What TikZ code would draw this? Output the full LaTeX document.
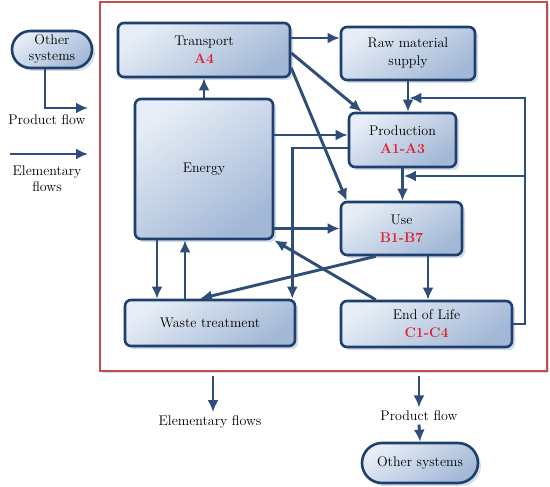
\documentclass[tikz,border=0pt]{standalone}
\usepackage{tikz}
\usetikzlibrary{arrows.meta,shapes.misc,shadows}

\definecolor{boxline}{HTML}{1F3F6F}
\definecolor{boxtop}{HTML}{E6EDF6}
\definecolor{boxbottom}{HTML}{A3B8D6}
\definecolor{flowline}{HTML}{2E4D78}
\definecolor{phasered}{HTML}{E0202C}
\definecolor{framered}{HTML}{C0504D}
\definecolor{shadowblue}{HTML}{C9D4E4}

\begin{document}
\begin{tikzpicture}[x=1pt,y=-1pt,
    font=\fontsize{14}{18}\selectfont,
    stage/.style={draw=boxline, line width=2.6pt, rounded corners=6pt,
      top color=boxtop, bottom color=boxbottom, shading angle=35,
      drop shadow={shadow xshift=3pt, shadow yshift=-3pt, fill=shadowblue, opacity=0.8},
      align=center, inner sep=0pt},
    terminal/.style={stage, rounded rectangle, rounded corners=0pt},
    system/.style={draw=framered, line width=2.4pt, fill=white,
      drop shadow={shadow xshift=2pt, shadow yshift=-2pt, fill=shadowblue, opacity=0.8}},
    flow/.style={draw=flowline, line width=2.9pt, -{Latex[length=12pt,width=11pt]}}
  ]
  \useasboundingbox (0,0) rectangle (550,487);

  \node[system, minimum width=447pt, minimum height=369pt] (lca) at (323.5,186.5) {};

  \node[stage, minimum width=172pt, minimum height=54pt] (transport) at (204,50)
    {Transport\\ \textcolor{phasered}{\textbf{A4}}};
  \node[stage, minimum width=138pt, minimum height=140pt] (energy) at (204,169) {Energy};
  \node[stage, minimum width=134pt, minimum height=53pt] (raw) at (408,53.5)
    {Raw material\\supply};
  \node[stage, minimum width=107pt, minimum height=54pt] (production) at (402.5,140)
    {Production\\ \textcolor{phasered}{\textbf{A1-A3}}};
  \node[stage, minimum width=121pt, minimum height=53pt] (use) at (401.5,228.5)
    {Use\\ \textcolor{phasered}{\textbf{B1-B7}}};
  \node[stage, minimum width=170pt, minimum height=46pt] (waste) at (210,323) {Waste treatment};
  \node[stage, minimum width=171pt, minimum height=46pt] (eol) at (426.5,324)
    {End of Life\\ \textcolor{phasered}{\textbf{C1-C4}}};

  \path ([yshift=12pt]transport.east)   edge[flow] ([yshift=15.5pt]raw.west)
        ([yshift=-3pt]transport.east)   edge[flow] ([xshift=14pt]production.north west)
        ([yshift=-18pt]transport.east)  edge[flow] ([xshift=7pt]use.north west)
        (energy.north)                  edge[flow] (transport.south)
        (raw.south)                     edge[flow] (raw.south |- production.north)
        ([yshift=34pt]energy.east)      edge[flow] ([yshift=5pt]production.west)
        (production.south)              edge[flow] (production.south |- use.north)
        ([yshift=-59.5pt]energy.east)   edge[flow] (use.west)
        ([xshift=36pt]use.south west)   edge[flow] ([xshift=-10pt]waste.north)
        ([xshift=36pt]eol.north west)   edge[flow] (energy.south east)
        ([xshift=26.5pt]use.south)      edge[flow] ([xshift=1.5pt]eol.north)
        ([xshift=-47pt]energy.south)    edge[flow] ([xshift=-53pt]waste.north)
        ([xshift=-25pt]waste.north)     edge[flow] ([xshift=-19pt]energy.south);

  \draw[flow] ([yshift=-8pt]production.west) -| ([xshift=-4pt]waste.north east);

  \coordinate (loopTop) at (525,98);
  \coordinate (loopMid) at (525,176);
  \draw[flow, shorten >=1.4pt] (eol.east) -| (loopTop) -- (loopTop -| raw.south);
  \draw[flow, shorten >=1.4pt] (loopMid) -- (loopMid -| production.south);

  \node[terminal, minimum width=80pt, minimum height=37pt] (othersIn) at (52,49.5) {Other\\[-2pt]systems};
  \coordinate (productIn) at (88,108);
  \draw[flow] ([xshift=-7pt]othersIn.south) |- (productIn);
  \node (productInLabel) at (47,120) {Product flow};
  \coordinate (elemStart) at (10,154);
  \coordinate (elemIn) at (88,154);
  \draw[flow] (elemStart) -- (elemIn);
  \node[align=center] (elemInLabel) at (47,179) {Elementary\\[-2pt]flows};

  \node (elemOutLabel) at (210,422) {Elementary flows};
  \node (productOutLabel) at (419,416) {Product flow};
  \node[terminal, minimum width=116pt, minimum height=40pt] (othersOut) at (420,463) {Other systems};
  \path ([xshift=-110.5pt,yshift=-4pt]lca.south) edge[flow] ([xshift=3pt]elemOutLabel.north)
        ([xshift=95.5pt,yshift=-4pt]lca.south)   edge[flow] (productOutLabel.north)
        (productOutLabel.south)                   edge[flow] (othersOut.north);
\end{tikzpicture}
\end{document}
